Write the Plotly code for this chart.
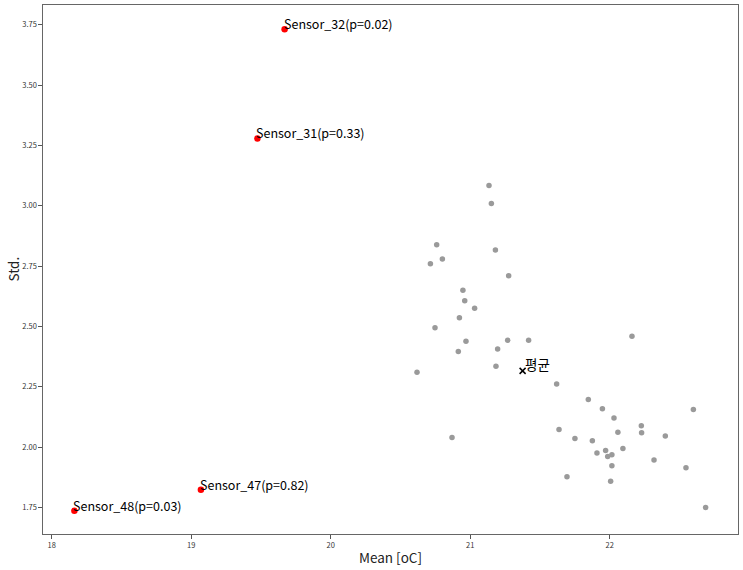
import plotly.graph_objects as go

# gray sensors (mean, std)
gray_mean = [21.135, 21.152, 20.760, 21.181, 20.801, 20.715, 21.276, 20.948, 20.961, 21.032,
             20.923, 20.748, 22.160, 20.970, 21.269, 21.419, 20.915, 21.197, 21.185, 20.619,
             21.620, 21.847, 21.948, 22.600, 22.031, 22.227, 21.637, 22.059, 22.229, 22.399,
             21.751, 21.876, 22.095, 21.971, 21.909, 22.016, 21.986, 22.318, 22.016, 22.547,
             21.694, 22.007, 22.688, 20.870]
gray_std = [3.084, 3.010, 2.839, 2.817, 2.779, 2.760, 2.710, 2.650, 2.607, 2.575,
            2.536, 2.495, 2.459, 2.439, 2.443, 2.443, 2.396, 2.407, 2.335, 2.310,
            2.262, 2.197, 2.159, 2.156, 2.121, 2.089, 2.073, 2.062, 2.060, 2.046,
            2.036, 2.026, 1.994, 1.986, 1.976, 1.968, 1.961, 1.947, 1.923, 1.914,
            1.877, 1.859, 1.750, 2.040]

# outlier sensors
red_names = ['Sensor_32', 'Sensor_31', 'Sensor_47', 'Sensor_48']
red_p = [0.02, 0.33, 0.82, 0.03]
red_mean = [19.670, 19.475, 19.070, 18.163]
red_std = [3.731, 3.279, 1.823, 1.736]

avg_mean = 21.376
avg_std = 2.316

FONT = 'Noto Sans CJK KR'

fig = go.Figure()
fig.add_trace(go.Scatter(x=gray_mean, y=gray_std, mode='markers',
                         marker=dict(color='#9a9a9a', size=5.5), hoverinfo='skip'))
fig.add_trace(go.Scatter(x=red_mean, y=red_std, mode='markers',
                         marker=dict(color='#ff0000', size=6.5)))
fig.add_trace(go.Scatter(x=[avg_mean], y=[avg_std], mode='markers',
                         marker=dict(color='black', size=6, symbol='x-thin',
                                     line=dict(color='black', width=1.5))))

for name, p, mx, sy in zip(red_names, red_p, red_mean, red_std):
    fig.add_annotation(x=mx, y=sy, text='%s(p=%.2f)' % (name, p), showarrow=False,
                       xanchor='left', yanchor='bottom', xshift=-3, yshift=-6,
                       font=dict(size=12.5, color='black', family=FONT))
fig.add_annotation(x=avg_mean, y=avg_std, text='평균', showarrow=False,
                   xanchor='left', yanchor='bottom', xshift=0, yshift=-5,
                   font=dict(size=13.5, color='black', family=FONT))

# axis titles
fig.add_annotation(xref='paper', yref='paper', x=0.5, y=0, yshift=-23, xanchor='center',
                   yanchor='middle', text='Mean [oC]', showarrow=False,
                   font=dict(size=13.5, color='#222222', family=FONT))
fig.add_annotation(xref='paper', yref='paper', x=0, y=0.5, xshift=-31, xanchor='center',
                   yanchor='middle', text='Std.', showarrow=False, textangle=-90,
                   font=dict(size=13.5, color='#222222', family=FONT))

axis_style = dict(showline=True, linecolor='#666666', linewidth=1.3, mirror=True,
                  ticks='outside', ticklen=3.5, tickwidth=1, tickcolor='#555555',
                  showgrid=False, zeroline=False, automargin=False,
                  tickfont=dict(size=7.5, color='#333333', family=FONT))

fig.update_xaxes(range=[17.938, 22.920], dtick=1, tick0=18, **axis_style)
fig.update_yaxes(range=[1.640, 3.832], dtick=0.25, tick0=1.75, tickformat='.2f',
                 **axis_style)

fig.update_layout(width=743, height=570, showlegend=False,
                  plot_bgcolor='white', paper_bgcolor='white',
                  margin=dict(l=43, r=5, t=5, b=36),
                  font=dict(family=FONT))

# page has a default 8px body margin; drop it so the figure sits at the corner
fig.write_html("out.html", config={'displayModeBar': False},
               post_script="document.body.style.margin='0';")
